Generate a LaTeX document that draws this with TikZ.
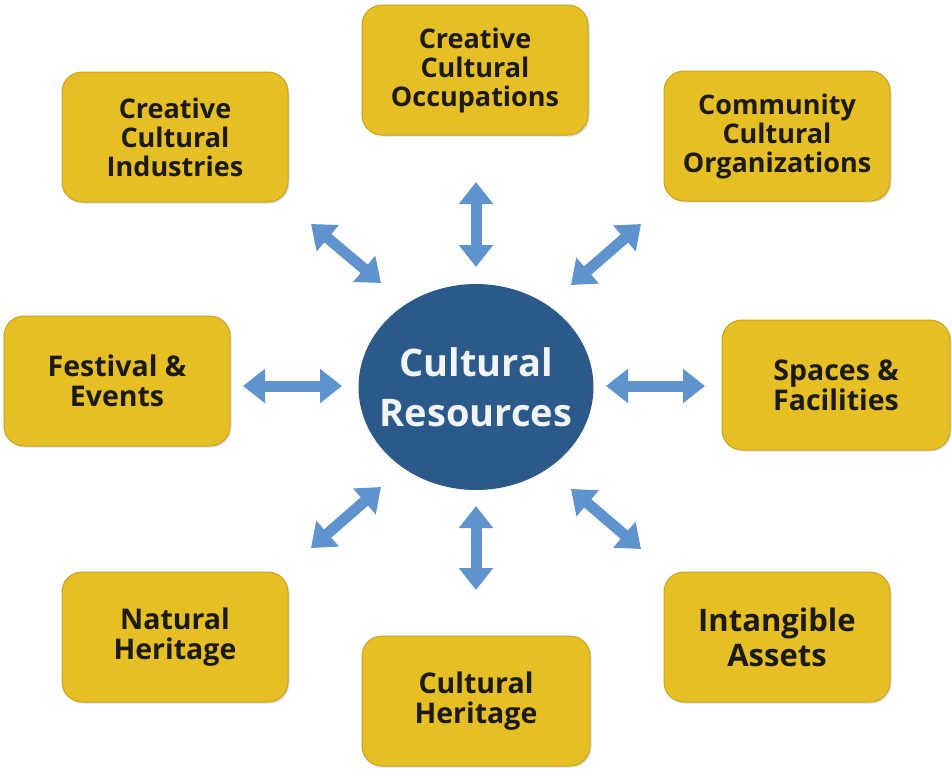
\documentclass[tikz,border=0pt]{standalone}
\usepackage{fontspec}
\setmainfont{Open Sans}[Ligatures=NoCommon]
\usetikzlibrary{arrows.meta,shadows,shapes.geometric}
\definecolor{boxy}{HTML}{E5BF24}
\definecolor{boxedge}{HTML}{C9A41C}
\definecolor{txt}{HTML}{1C1A14}
\definecolor{circ}{HTML}{2B5A8A}
\definecolor{arr}{HTML}{5E93CE}
\begin{document}
\begin{tikzpicture}[x=1pt,y=-1pt,
  box/.style={rounded corners=20pt, fill=boxy, draw=boxedge, line width=1pt,
    minimum width=226pt, minimum height=130pt, align=center, text=txt,
    font=\bfseries\fontsize{27}{29}\selectfont,
    drop shadow={shadow xshift=1.5pt, shadow yshift=-1.5pt, opacity=0.25}},
  twoline/.style={font=\bfseries\fontsize{28.5}{30}\selectfont},
  dbl/.style={draw=arr, line width=11pt,
    {Triangle[width=33pt,length=22pt]}-{Triangle[width=33pt,length=22pt]}}
]
\useasboundingbox (0,0) rectangle (952,772);
\fill[white] (0,0) rectangle (952,772);

\node[box] (occ) at (475,70) {Creative\\Cultural\\Occupations};
\node[box] (ind) at (175,137) {Creative\\Cultural\\Industries};
\node[box] (org) at (777,136) {Community\\Cultural\\Organizations};
\node[box, twoline] (fest) at (117,381) {Festival \&\\Events};
\node[box, twoline, minimum width=228pt] (spa) at (836,385) {Spaces \&\\Facilities};
\node[box, twoline] (nat) at (175,637) {Natural\\Heritage};
\node[box, twoline, minimum width=228pt] (cher) at (476,701) {Cultural\\Heritage};
\node[box, font=\bfseries\fontsize{31}{35}\selectfont] (int) at (777,637) {Intangible\\Assets};

\node[ellipse, fill=circ, inner sep=0pt, minimum width=235pt, minimum height=206pt]
  (cr) at (476,387) {};
\node[text=white!93!circ, align=center, font=\fontsize{38}{50}\selectfont\bfseries]
  (crt) at (cr.center) {Cultural\\Resources};

\coordinate (t1) at (476,182); \coordinate (t2) at (476,267);
\coordinate (b1) at (476,506); \coordinate (b2) at (476,590);
\coordinate (l1) at (243,386); \coordinate (l2) at (342,386);
\coordinate (r1) at (606,386); \coordinate (r2) at (705,386);
\coordinate (ul1) at (311,224); \coordinate (ul2) at (381,283);
\coordinate (ur1) at (641,224); \coordinate (ur2) at (571,285);
\coordinate (dl1) at (311,548); \coordinate (dl2) at (381,487);
\coordinate (dr1) at (571,489); \coordinate (dr2) at (641,549);

\draw[dbl] (t1) -- (t2);
\draw[dbl] (b1) -- (b2);
\draw[dbl] (l1) -- (l2);
\draw[dbl] (r1) -- (r2);
\draw[dbl] (ul1) -- (ul2);
\draw[dbl] (ur1) -- (ur2);
\draw[dbl] (dl1) -- (dl2);
\draw[dbl] (dr1) -- (dr2);
\end{tikzpicture}
\end{document}
